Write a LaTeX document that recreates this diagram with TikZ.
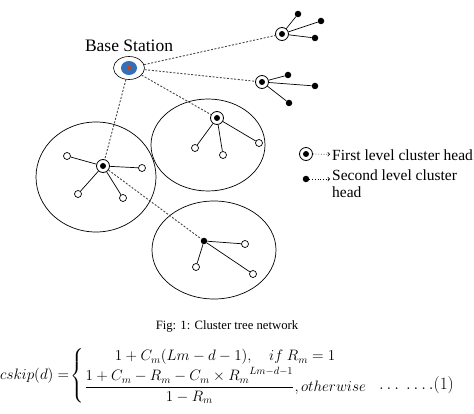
\documentclass[tikz,border=0pt]{standalone}
\usepackage{amsmath}
\usepackage{fontspec}
\setmainfont{Liberation Serif}
\usepackage{tikz}
\usetikzlibrary{shapes,arrows,positioning,calc}
\definecolor{bsblue}{RGB}{52,112,186}
\definecolor{bsred}{RGB}{190,70,40}
\definecolor{linkgray}{RGB}{70,70,70}

\begin{document}
\begin{tikzpicture}[
        x=1pt, y=-1pt,
        every node/.style={font=\fontsize{15.5}{17}\selectfont, inner sep=0pt},
        headone/.style={circle, draw, line width=0.8pt, fill=white, minimum size=13pt,
            path picture={\fill[black] (path picture bounding box.center) circle (3pt);}},
        headtwo/.style={circle, fill=black, minimum size=6.5pt},
        member/.style={circle, draw, line width=0.7pt, fill=white, minimum size=7pt},
        cluster/.style={draw, line width=0.7pt},
        link/.style={draw=linkgray, line width=0.9pt, dash pattern=on 2pt off 1.6pt},
        edge/.style={draw, line width=0.7pt}
    ]
        \useasboundingbox (0,0) rectangle (474,414);

        \draw[cluster] (208,145) ellipse [x radius=57pt, y radius=46pt];
        \draw[cluster] (96,177) ellipse [x radius=60pt, y radius=55pt];
        \draw[cluster] (214,250) ellipse [x radius=62pt, y radius=49pt];

        \node[ellipse, draw, line width=0.6pt, fill=white, minimum width=31pt, minimum height=23pt] (bs) at (129,68) {};
        \fill[bsblue] (bs.center) ellipse [x radius=8pt, y radius=7pt];
        \fill[bsred] (bs.center) circle (2.3pt);
        \node[above=4pt of bs, font=\fontsize{17.5}{19}\selectfont] (bslabel) {Base Station};

        \node[headone] (fh1) at (282,34) {};
        \node[headone] (fh2) at (262,82) {};
        \node[headone] (fh3) at (217,118) {};
        \node[headone] (fh4) at (103,166) {};
        \node[headtwo] (sh) at (204,241) {};

        \node[headtwo] (s11) at (298,14) {};
        \node[headtwo] (s12) at (321,21) {};
        \node[headtwo] (s13) at (315,38) {};
        \node[headtwo] (s21) at (288,75) {};
        \node[headtwo] (s22) at (315,86) {};
        \node[headtwo] (s23) at (289,103) {};

        \node[member] (m31) at (195,148) {};
        \node[member] (m32) at (223,155) {};
        \node[member] (m33) at (259,143) {};
        \node[member] (m41) at (67,156) {};
        \node[member] (m42) at (142,168) {};
        \node[member] (m43) at (78,194) {};
        \node[member] (m44) at (123,198) {};
        \node[member] (m51) at (245,244) {};
        \node[member] (m52) at (196,267) {};
        \node[member] (m53) at (253,274) {};

        \draw[link] (bs) -- (fh1);
        \draw[link] (bs) -- (fh2);
        \draw[link] (bs) -- (fh3);
        \draw[link] (bs) -- (fh4);
        \draw[link] (fh4) -- (sh);

        \draw[edge] (fh1) -- (s11);
        \draw[edge] (fh1) -- (s12);
        \draw[edge] (fh1) -- (s13);
        \draw[edge] (fh2) -- (s21);
        \draw[edge] (fh2) -- (s22);
        \draw[edge] (fh2) -- (s23);
        \draw[edge] (fh3) -- (m31);
        \draw[edge] (fh3) -- (m32);
        \draw[edge] (fh3) -- (m33);
        \draw[edge] (fh4) -- (m41);
        \draw[edge] (fh4) -- (m42);
        \draw[edge] (fh4) -- (m43);
        \draw[edge] (fh4) -- (m44);
        \draw[edge] (sh) -- (m51);
        \draw[edge] (sh) -- (m52);
        \draw[edge] (sh) -- (m53);

        \node[headone] (keyone) at (306,154) {};
        \node[anchor=west] (keyonetext) at (332,155) {First level cluster head};
        \node[headtwo] (keytwo) at (306,179) {};
        \node[anchor=north west, align=left] (keytwotext) at (332,170) {Second level cluster\\head};
        \draw[->, dotted, line width=0.7pt, shorten >=2pt] (keyone) -- (keyonetext);
        \draw[->, dotted, line width=0.7pt, shorten >=2pt] (keytwo) -- (keytwotext.west |- keytwo);

        \node[font=\fontsize{12.7}{14}\selectfont] (caption) at (227,326) {Fig: 1: Cluster tree network};

        \node[anchor=west, font=\fontsize{14.4}{17}\selectfont, transform shape, scale=1.05] (eqn) at (0,376) {$cskip(d)=\!\left\{\begin{array}{@{}c@{}}
            1+C_m(Lm-d-1),\quad if\ R_m=1\\[1pt]
            \dfrac{1+C_m-R_m-C_m\times {R_m}^{Lm-d-1}}{1-R_m}, otherwise
        \end{array}\right.$};
        \node[anchor=east, font=\fontsize{17.28}{19}\selectfont] (eqnum) at (454,385) {$\ldots\ \ldots.(1)$};
    \end{tikzpicture}
\end{document}
